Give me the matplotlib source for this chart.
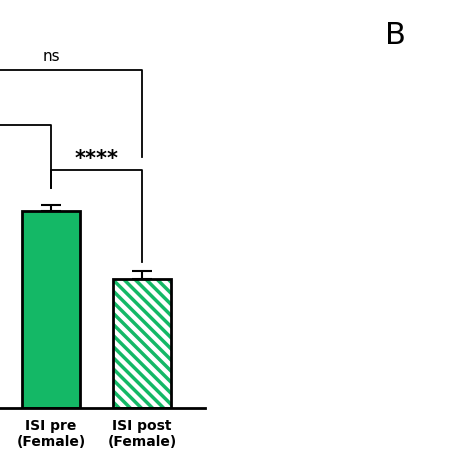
import matplotlib
matplotlib.use("Agg")
import matplotlib.pyplot as plt

categories = ["ISI pre\n(Female)", "ISI post\n(Female)"]
values = [98.5, 64.5]
errors = [3.0, 4.0]
green = "#14b866"

fig = plt.figure(figsize=(4.74, 4.74), dpi=100)
ax = fig.add_axes([0, 66/474, 205/474, 408/474])
x = [1, 2]
plt.rcParams['hatch.linewidth'] = 2.5
plt.rcParams['hatch.color'] = green
ax.bar(x[0], values[0], width=0.64, color=green, edgecolor="black", linewidth=2)
ax.bar(x[1], values[1], width=0.64, color="white", edgecolor=green, hatch="\\\\\\", linewidth=0)
ax.bar(x[1], values[1], width=0.64, fill=False, edgecolor="black", linewidth=2)
ax.errorbar(x, values, yerr=[[0, 0], errors], fmt="none", ecolor="black", capsize=7, elinewidth=1.5, capthick=1.5)
ax.set_xlim(0.44, 2.69)
ax.set_ylim(0, 204)
for s in ["top", "right", "left"]:
    ax.spines[s].set_visible(False)
ax.spines["bottom"].set_linewidth(2)
ax.set_yticks([])
ax.set_xticks(x)
ax.set_xticklabels(categories, fontweight="bold", fontsize=10)
ax.tick_params(axis="x", length=0, pad=8)

kw = dict(color="black", lw=1.3, clip_on=False)
ax.plot([0.44, 1, 1], [141.5, 141.5, 110], **kw)
ax.plot([0.44, 2, 2], [169, 169, 125.5], **kw)
ax.text(1.0, 172, "ns", ha="center", va="bottom", fontsize=11)
ax.plot([1, 1, 2, 2], [110, 119, 119, 73], **kw)
ax.text(1.5, 119.5, "****", ha="center", va="bottom", fontsize=15, fontweight="bold")
fig.text(395/474, 1 - 35/474, "B", fontsize=22, ha="center", va="center")
fig.savefig("out.png", dpi=100)
